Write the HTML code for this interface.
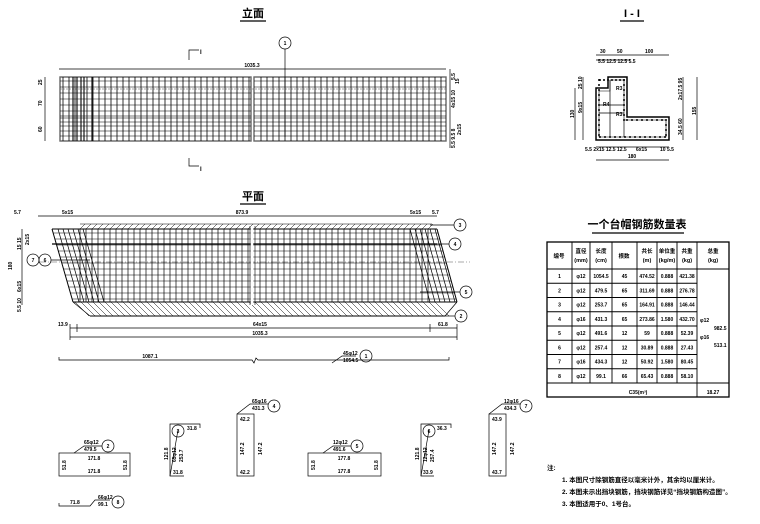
<!DOCTYPE html>
<html><head><meta charset="utf-8"><style>
html,body{margin:0;padding:0;background:#fff}
svg{display:block}
text{font-family:"Liberation Sans","Noto Sans CJK SC",sans-serif;font-weight:bold;fill:#000}
.s{font-size:5px}.m{font-size:6px}.t{font-size:11px}
</style></head><body>
<svg id="s" width="760" height="524" viewBox="0 0 760 524" xmlns="http://www.w3.org/2000/svg" stroke="#000" fill="none" stroke-width="0.7">
<text x="253" y="17" class="t" text-anchor="middle" stroke="none">立面</text>
<line x1="240" y1="21" x2="266" y2="21" stroke-width="1.2"/>
<text x="632" y="17" class="t" text-anchor="middle" stroke="none">I - I</text>
<line x1="620" y1="21" x2="644" y2="21" stroke-width="1.2"/>
<text x="253" y="200" class="t" text-anchor="middle" stroke="none">平面</text>
<line x1="240" y1="204" x2="266" y2="204" stroke-width="1.2"/>
<text x="637" y="228" class="t" text-anchor="middle" stroke="none">一个台帽钢筋数量表</text>
<line x1="592" y1="233" x2="684" y2="233" stroke-width="1.2"/>

<g id="elev">
<rect x="60" y="77" width="191" height="64" stroke="#666" stroke-width="1.4"/>
<rect x="254" y="77" width="192" height="64" stroke="#666" stroke-width="1.4"/>
</g>
<line x1="59" y1="69" x2="446" y2="69"/>
<text x="252" y="67" class="s" text-anchor="middle" stroke="none">1035.3</text>
<circle cx="285" cy="43" r="6"/><text x="285" y="45" class="s" text-anchor="middle" stroke="none">1</text>
<line x1="285" y1="49" x2="285" y2="137"/>
<path d="M189 60 V50 H199"/><text x="200" y="54" class="m" stroke="none">I</text>
<path d="M189 158 V166 H199"/><text x="200" y="171" class="m" stroke="none">I</text>
<line x1="45" y1="77" x2="45" y2="141"/>
<text x="42" y="85" class="s" stroke="none" transform="rotate(-90 42 85)">25</text>
<text x="42" y="106" class="s" stroke="none" transform="rotate(-90 42 106)">70</text>
<text x="42" y="132" class="s" stroke="none" transform="rotate(-90 42 132)">60</text>
<line x1="450" y1="69" x2="450" y2="148"/>
<text x="455" y="80" class="s" stroke="none" transform="rotate(-90 455 80)">5.5</text>
<text x="459" y="84" class="s" stroke="none" transform="rotate(-90 459 84)">15</text>
<text x="455" y="108" class="s" stroke="none" transform="rotate(-90 455 108)">4x15 10</text>
<text x="455" y="148" class="s" stroke="none" transform="rotate(-90 455 148)">5.5 9.5 8</text>
<text x="461" y="135" class="s" stroke="none" transform="rotate(-90 461 135)">2x15</text>

<path d="M596 88 H608 V77 H627 V117 H669 V140 H596 Z" stroke-width="1.5"/>
<path d="M599 91 H610 V80 H624 V120 H666 V137 H599 Z" stroke-width="0.6"/>
<line x1="599" y1="105" x2="624" y2="105"/><line x1="599" y1="113" x2="624" y2="113"/>
<line x1="610" y1="80" x2="610" y2="137"/><line x1="624" y1="120" x2="624" y2="137"/>
<text x="616" y="90" class="s" stroke="none">R3</text><text x="603" y="106" class="s" stroke="none">R4</text><text x="616" y="116" class="s" stroke="none">R3</text>
<g id="dots"></g>
<line x1="596" y1="55" x2="669" y2="55"/><line x1="596" y1="60" x2="630" y2="60"/>
<text x="600" y="53" class="s" stroke="none">30</text><text x="617" y="53" class="s" stroke="none">50</text><text x="645" y="53" class="s" stroke="none">100</text>
<text x="598" y="63" class="s" stroke="none">5.5 12.5 12.5 5.5</text>
<line x1="596" y1="147" x2="669" y2="147"/><line x1="596" y1="160" x2="669" y2="160"/>
<text x="585" y="151" class="s" stroke="none">5.5 2x15 12.5 12.5</text><text x="636" y="151" class="s" stroke="none">6x15</text><text x="660" y="151" class="s" stroke="none">10 5.5</text>
<text x="632" y="158" class="s" text-anchor="middle" stroke="none">180</text>
<line x1="575" y1="88" x2="575" y2="140"/><line x1="583" y1="77" x2="583" y2="140"/>
<text x="574" y="118" class="s" stroke="none" transform="rotate(-90 574 118)">130</text>
<text x="582" y="113" class="s" stroke="none" transform="rotate(-90 582 113)">9x15</text>
<text x="582" y="89" class="s" stroke="none" transform="rotate(-90 582 89)">25 10</text>
<line x1="683" y1="77" x2="683" y2="140"/><line x1="697" y1="77" x2="697" y2="140"/>
<text x="696" y="115" class="s" stroke="none" transform="rotate(-90 696 115)">155</text>
<text x="682" y="100" class="s" stroke="none" transform="rotate(-90 682 100)">2x17.5 95</text>
<text x="682" y="135" class="s" stroke="none" transform="rotate(-90 682 135)">34.5 60</text>

<g id="plan"></g>
<line x1="38" y1="216" x2="437" y2="216"/>
<text x="14" y="214" class="s" stroke="none">5.7</text><text x="62" y="214" class="s" stroke="none">5x15</text>
<text x="242" y="214" class="s" text-anchor="middle" stroke="none">873.9</text>
<text x="410" y="214" class="s" stroke="none">5x15</text><text x="432" y="214" class="s" stroke="none">5.7</text>
<line x1="22" y1="229" x2="22" y2="305"/>
<text x="12" y="270" class="s" stroke="none" transform="rotate(-90 12 270)">180</text>
<text x="21" y="250" class="s" stroke="none" transform="rotate(-90 21 250)">15 15</text>
<text x="21" y="292" class="s" stroke="none" transform="rotate(-90 21 292)">6x15</text>
<text x="21" y="312" class="s" stroke="none" transform="rotate(-90 21 312)">5.5 10</text>
<text x="29" y="245" class="s" stroke="none" transform="rotate(-90 29 245)">2x15</text>
<circle cx="33" cy="260" r="6"/><text x="33" y="262" class="s" text-anchor="middle" stroke="none">7</text>
<circle cx="45" cy="260" r="6"/><text x="45" y="262" class="s" text-anchor="middle" stroke="none">6</text>
<line x1="51" y1="260" x2="90" y2="260"/>
<circle cx="460" cy="225" r="6"/><text x="460" y="227" class="s" text-anchor="middle" stroke="none">3</text><line x1="430" y1="225" x2="454" y2="225"/>
<circle cx="455" cy="244" r="6"/><text x="455" y="246" class="s" text-anchor="middle" stroke="none">4</text><line x1="432" y1="244" x2="449" y2="244"/>
<circle cx="466" cy="292" r="6"/><text x="466" y="294" class="s" text-anchor="middle" stroke="none">5</text><line x1="420" y1="292" x2="460" y2="292"/>
<circle cx="461" cy="316" r="6"/><text x="461" y="318" class="s" text-anchor="middle" stroke="none">2</text><line x1="440" y1="316" x2="455" y2="316"/>
<line x1="70" y1="328" x2="457" y2="328"/><line x1="70" y1="337" x2="457" y2="337"/>
<line x1="70" y1="324" x2="70" y2="340"/><line x1="457" y1="324" x2="457" y2="340"/><line x1="77" y1="324" x2="77" y2="332"/><line x1="430" y1="324" x2="430" y2="332"/>
<text x="58" y="326" class="s" stroke="none">13.9</text><text x="260" y="326" class="s" text-anchor="middle" stroke="none">64x15</text><text x="438" y="326" class="s" stroke="none">61.8</text>
<text x="260" y="335" class="s" text-anchor="middle" stroke="none">1035.3</text>
<path d="M59 357 V360 H252 L254 363 L256 358 L258 360 H449 V357"/>
<text x="150" y="358" class="s" text-anchor="middle" stroke="none">1087.1</text>
<path d="M332 363 L342 356 H356"/>
<text x="343" y="355" class="s" stroke="none">45φ12</text><text x="343" y="362" class="s" stroke="none">1054.5</text>
<circle cx="366" cy="356" r="6"/><text x="366" y="358" class="s" text-anchor="middle" stroke="none">1</text>

<rect x="59" y="453" width="71" height="23"/>
<path d="M74 453 L84 446 H102"/><text x="84" y="444" class="s" stroke="none">65φ12</text><text x="84" y="451" class="s" stroke="none">479.5</text>
<circle cx="108" cy="446" r="6"/><text x="108" y="448" class="s" text-anchor="middle" stroke="none">2</text>
<text x="94" y="460" class="s" text-anchor="middle" stroke="none">171.8</text><text x="94" y="473" class="s" text-anchor="middle" stroke="none">171.8</text>
<text x="66" y="470" class="s" stroke="none" transform="rotate(-90 66 470)">51.8</text><text x="127" y="470" class="s" stroke="none" transform="rotate(-90 127 470)">51.8</text>

<path d="M184 476 H170 V424 H200 V428"/><path d="M170 476 L178 430"/>
<circle cx="178" cy="431" r="6"/><text x="178" y="433" class="s" text-anchor="middle" stroke="none">3</text>
<text x="187" y="430" class="s" stroke="none">31.8</text><text x="173" y="474" class="s" stroke="none">31.8</text>
<text x="168" y="460" class="s" stroke="none" transform="rotate(-90 168 460)">121.8</text>
<text x="176" y="462" class="s" stroke="none" transform="rotate(-90 176 462)">65φ12</text>
<text x="183" y="462" class="s" stroke="none" transform="rotate(-90 183 462)">253.7</text>

<rect x="237" y="414" width="17" height="62"/>
<path d="M237 414 L250 404 H268"/><text x="252" y="403" class="s" stroke="none">65φ16</text><text x="252" y="410" class="s" stroke="none">431.3</text>
<circle cx="274" cy="406" r="6"/><text x="274" y="408" class="s" text-anchor="middle" stroke="none">4</text>
<text x="240" y="421" class="s" stroke="none">42.2</text><text x="240" y="474" class="s" stroke="none">42.2</text>
<text x="244" y="455" class="s" stroke="none" transform="rotate(-90 244 455)">147.2</text><text x="262" y="455" class="s" stroke="none" transform="rotate(-90 262 455)">147.2</text>

<rect x="308" y="453" width="73" height="23"/>
<path d="M323 453 L333 446 H351"/><text x="333" y="444" class="s" stroke="none">12φ12</text><text x="333" y="451" class="s" stroke="none">491.6</text>
<circle cx="357" cy="446" r="6"/><text x="357" y="448" class="s" text-anchor="middle" stroke="none">5</text>
<text x="344" y="460" class="s" text-anchor="middle" stroke="none">177.8</text><text x="344" y="473" class="s" text-anchor="middle" stroke="none">177.8</text>
<text x="315" y="470" class="s" stroke="none" transform="rotate(-90 315 470)">51.8</text><text x="378" y="470" class="s" stroke="none" transform="rotate(-90 378 470)">51.8</text>

<path d="M434 476 H421 V424 H451 V428"/><path d="M421 476 L429 430"/>
<circle cx="429" cy="431" r="6"/><text x="429" y="433" class="s" text-anchor="middle" stroke="none">6</text>
<text x="437" y="430" class="s" stroke="none">36.3</text><text x="423" y="474" class="s" stroke="none">33.9</text>
<text x="419" y="460" class="s" stroke="none" transform="rotate(-90 419 460)">121.8</text>
<text x="427" y="462" class="s" stroke="none" transform="rotate(-90 427 462)">12φ12</text>
<text x="434" y="462" class="s" stroke="none" transform="rotate(-90 434 462)">257.4</text>

<rect x="489" y="414" width="17" height="62"/>
<path d="M489 414 L502 404 H520"/><text x="504" y="403" class="s" stroke="none">12φ16</text><text x="504" y="410" class="s" stroke="none">434.3</text>
<circle cx="526" cy="406" r="6"/><text x="526" y="408" class="s" text-anchor="middle" stroke="none">7</text>
<text x="492" y="421" class="s" stroke="none">43.9</text><text x="492" y="474" class="s" stroke="none">43.7</text>
<text x="496" y="455" class="s" stroke="none" transform="rotate(-90 496 455)">147.2</text><text x="514" y="455" class="s" stroke="none" transform="rotate(-90 514 455)">147.2</text>

<path d="M59 503 V506 H90 L95 500 H110"/>
<text x="70" y="504" class="s" stroke="none">71.8</text>
<text x="98" y="499" class="s" stroke="none">66φ12</text><text x="98" y="506" class="s" stroke="none">99.1</text>
<circle cx="118" cy="502" r="6"/><text x="118" y="504" class="s" text-anchor="middle" stroke="none">8</text>

<g id="tbl" stroke-width="0.9"></g>
<g class="s" stroke="none" text-anchor="middle" style="font-size:5.5px">
<text x="559" y="258">编号</text>
<text x="581" y="253">直径</text><text x="581" y="262">(mm)</text>
<text x="601" y="253">长度</text><text x="601" y="262">(cm)</text>
<text x="624" y="258">根数</text>
<text x="647" y="253">共长</text><text x="647" y="262">(m)</text>
<text x="667" y="253">单位重</text><text x="667" y="262">(kg/m)</text>
<text x="687" y="253">共重</text><text x="687" y="262">(kg)</text>
<text x="713" y="253">总重</text><text x="713" y="262">(kg)</text>
</g>
<g id="rows" class="s" stroke="none" text-anchor="middle"></g>
<text x="638" y="394" class="s" text-anchor="middle" stroke="none">C35(m³)</text>
<text x="713" y="394" class="s" text-anchor="middle" stroke="none">18.27</text>
<text x="700" y="322" class="s" stroke="none">φ12</text><text x="714" y="330" class="s" stroke="none">982.5</text>
<text x="700" y="339" class="s" stroke="none">φ16</text><text x="714" y="347" class="s" stroke="none">513.1</text>

<g stroke="none">
<text x="547" y="470" style="font-size:6.5px">注:</text>
<text x="562" y="482" style="font-size:6.5px">1. 本图尺寸除钢筋直径以毫米计外，其余均以厘米计。</text>
<text x="562" y="494" style="font-size:6.5px">2. 本图未示出挡块钢筋，挡块钢筋详见“挡块钢筋构造图”。</text>
<text x="562" y="506" style="font-size:6.5px">3. 本图适用于0、1号台。</text>
</g>
</svg>
<script>
var NS="http://www.w3.org/2000/svg";
function L(g,x1,y1,x2,y2,w,c,d){var l=document.createElementNS(NS,"line");l.setAttribute("x1",x1);l.setAttribute("y1",y1);l.setAttribute("x2",x2);l.setAttribute("y2",y2);if(w)l.setAttribute("stroke-width",w);if(c)l.setAttribute("stroke",c);if(d)l.setAttribute("stroke-dasharray",d);g.appendChild(l);}
function T(g,x,y,s){var t=document.createElementNS(NS,"text");t.setAttribute("x",x);t.setAttribute("y",y);t.textContent=s;g.appendChild(t);}
var e=document.getElementById("elev");
[81,87,93,99,105,111,116,118,122,126,131,136].forEach(function(y){L(e,60,y,251,y,0.6);L(e,254,y,446,y,0.6);});
L(e,60,89,446,89,0.6,"#555","2,1");
for(var x=63;x<446;x+=6){if(x>249&&x<256)continue;L(e,x,77,x,141,0.8);}
[73,77,81,84,92].forEach(function(x){L(e,x,77,x,141,1.1);});
var d=document.getElementById("dots");
var pts=[];for(var x=600;x<=624;x+=4)pts.push([x,80]);for(var y=80;y<=137;y+=5)pts.push([599,y]);for(var y=80;y<=120;y+=5)pts.push([624,y]);for(var x=600;x<=666;x+=5)pts.push([x,137]);for(var x=627;x<=666;x+=5)pts.push([x,120]);for(var y=120;y<=137;y+=5)pts.push([666,y]);
pts.forEach(function(p){var c=document.createElementNS(NS,"circle");c.setAttribute("cx",p[0]);c.setAttribute("cy",p[1]);c.setAttribute("r",1);c.setAttribute("fill","#000");c.setAttribute("stroke","none");d.appendChild(c);});
var p=document.getElementById("plan");
L(p,52,229,437,229,1);L(p,73,302,457,302,1);L(p,52,229,73,302,1);L(p,437,229,457,302,1);
for(var y=233;y<302;y+=6){var t=(y-229)/73;L(p,52+21*t,y,437+20*t,y,0.6);}
L(p,52,244,437,244,1.3);L(p,40,262,470,262,0.5,"#555","6,2,1,2");
for(var x=80;x<430;x+=6){if(x>249&&x<256)continue;L(p,x,229,x,302,0.7);}
for(var i=0;i<6;i++){L(p,58+i*5,229,79+i*5,302,0.7);L(p,410+i*5,229,430+i*5,302,0.7);}
L(p,80,224,432,224,0.6);for(var x=80;x<432;x+=6)L(p,x,229,x+5,224,0.5);
L(p,90,316,445,316,0.9);for(var x=75;x<440;x+=6)L(p,x,302,x+14,316,0.5);
L(p,73,302,90,316,0.7);L(p,457,302,445,316,0.7);
L(p,252,226,252,305,2.5,"#fff");L(p,250,226,250,305,0.6);L(p,255,226,255,305,0.6);
var tb=document.getElementById("tbl");
var xs=[547,572,590,612,637,657,677,697,729];
var r=document.createElementNS(NS,"rect");r.setAttribute("x",547);r.setAttribute("y",242);r.setAttribute("width",182);r.setAttribute("height",155);r.setAttribute("stroke-width",1.3);tb.appendChild(r);
var ys=[242,269];for(var i=1;i<=8;i++)ys.push(269+i*14.25);ys.push(397);
for(var i=1;i<ys.length-1;i++){L(tb,547,ys[i],(i>=2&&i<=8)?697:729,ys[i]);}
xs.forEach(function(x,i){if(i==0||i==8)return;L(tb,x,242,x,(i==7)?397:383);});
var data=[["1","φ12","1054.5","45","474.52","0.888","421.38"],["2","φ12","479.5","65","311.69","0.888","276.78"],["3","φ12","253.7","65","164.91","0.888","146.44"],["4","φ16","431.3","65","273.86","1.580","432.70"],["5","φ12","491.6","12","59","0.888","52.39"],["6","φ12","257.4","12","30.89","0.888","27.43"],["7","φ16","434.3","12","50.92","1.580","80.45"],["8","φ12","99.1","66","65.43","0.888","58.10"]];
var rg=document.getElementById("rows");
data.forEach(function(row,i){var y=269+i*14.25+9;row.forEach(function(s,j){T(rg,(xs[j]+xs[j+1])/2,y,s);});});
</script>
</body></html>
